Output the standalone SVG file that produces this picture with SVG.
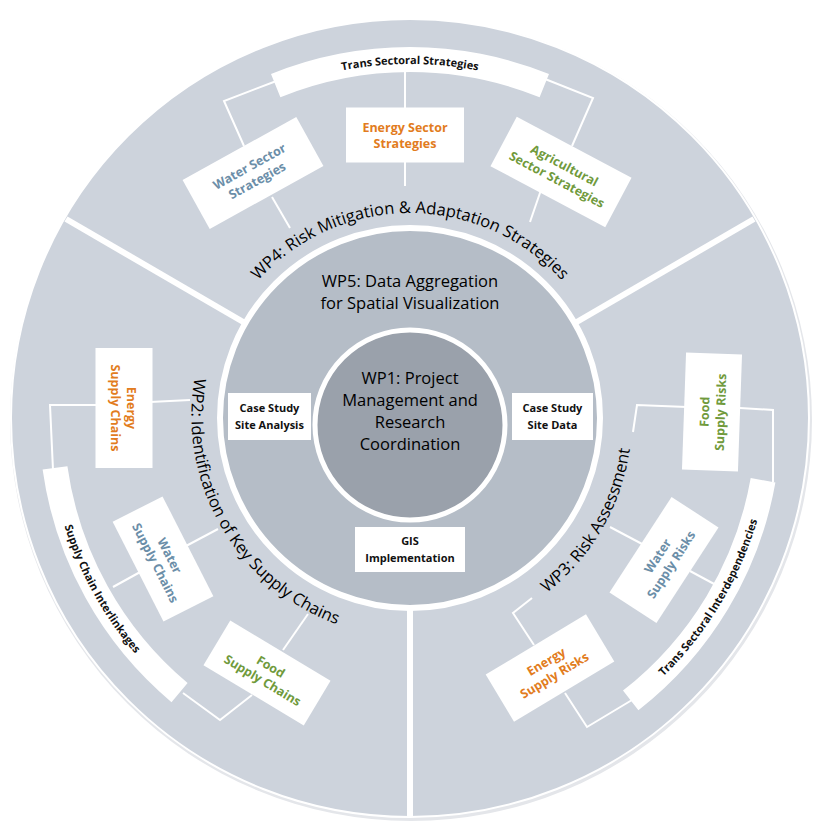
<svg xmlns="http://www.w3.org/2000/svg" width="818" height="827" viewBox="0 0 818 827">
<style>
.bx{fill:#fff}
.cn{fill:none;stroke:#fff;stroke-width:2}
.sep{stroke:#fff;stroke-width:6}
.t{font-family:"Open Sans","Liberation Sans",sans-serif;font-weight:700;font-size:12.5px;text-anchor:middle}
.s{font-family:"Open Sans","Liberation Sans",sans-serif;font-weight:700;font-size:11px;text-anchor:middle;fill:#111}
.wp{font-family:"Open Sans","Liberation Sans",sans-serif;font-size:16.5px;fill:#000}
.c{text-anchor:middle}
.w{fill:#6b8ea8}.e{fill:#e27c20}.g{fill:#709a3c}
</style>
<defs>
<path id="pTop" d="M233 111.4 A354 354 0 0 1 587 111.4"/>
<path id="pLeft" d="M48.9 443.3 A362 362 0 0 0 197.2 710.9"/>
<path id="pRight" d="M612.4 718.1 A362 362 0 0 0 770.0 455.8"/>
<path id="pWP4" d="M217.4 347.9 A205 205 0 0 1 602.6 347.9"/>
<path id="pWP2" d="M219.5 308 A222 222 0 0 0 410 638"/>
<path id="pWP3" d="M448.5 636.6 A222 222 0 0 0 618.6 342.1"/>
</defs>
<rect width="818" height="827" fill="#fff"/>
<circle cx="411" cy="420" r="401" fill="#e4e6ea"/>
<circle cx="410" cy="418" r="399" fill="#cdd3dc" stroke="#fff" stroke-width="2"/>
<g id="separators">
<line class="sep" x1="245" y1="323" x2="66" y2="219"/>
<line class="sep" x1="575" y1="323" x2="754" y2="219"/>
<line class="sep" x1="410" y1="608" x2="410" y2="816"/>
</g>
<circle cx="410" cy="418" r="190" fill="#b5bdc7" stroke="#fff" stroke-width="6"/>
<circle cx="410" cy="425" r="95" fill="#9aa1ab" stroke="#fff" stroke-width="5"/>

<g id="connectors">
<polyline class="cn" points="405,72 405,110"/>
<polyline class="cn" points="405,160 405,186"/>
<polyline class="cn" points="279,80 224,101 244,146"/>
<polyline class="cn" points="272,197 290,228"/>
<polyline class="cn" points="540,77 593,98 572,146"/>
<polyline class="cn" points="542,187 530,222"/>
<polyline class="cn" points="97,405 50,405 53,470"/>
<polyline class="cn" points="150,402 190,400"/>
<polyline class="cn" points="113,587 142,571"/>
<polyline class="cn" points="186,546 218,529"/>
<polyline class="cn" points="283,650 308,614"/>
<polyline class="cn" points="252,695 220,720 183,693"/>
<polyline class="cn" points="687,407 637,405 633,432"/>
<polyline class="cn" points="740,408 773,410 773,482"/>
<polyline class="cn" points="610,527 644,545"/>
<polyline class="cn" points="690,571 716,585"/>
<polyline class="cn" points="534,645 513,613 532,598"/>
<polyline class="cn" points="565,693 587,727 632,700"/>
</g>

<g id="trans-sectoral-strategies">
<path class="bx" d="M271 74 A371 371 0 0 1 549 74 L539.6 97.2 A346 346 0 0 0 280.4 97.2 Z"/>
<text class="s"><textPath href="#pTop" startOffset="50%">Trans Sectoral Strategies</textPath></text>
</g>
<g id="supply-chain-interlinkages">
<path class="bx" d="M42.6 469.6 A371 371 0 0 0 171.5 702.2 L187.6 683 A346 346 0 0 1 67.4 466.2 Z"/>
<text class="s"><textPath href="#pLeft" startOffset="50%">Supply Chain Interlinkages</textPath></text>
</g>
<g id="trans-sectoral-interdependencies">
<path class="bx" d="M775.4 482.4 A371 371 0 0 1 638.4 710.3 L623 690.6 A346 346 0 0 0 750.7 478.1 Z"/>
<text class="s"><textPath href="#pRight" startOffset="50%">Trans Sectoral Interdependencies</textPath></text>
</g>

<g id="water-sector" transform="translate(253,173) rotate(-29)">
<rect class="bx" x="-65" y="-28" width="130" height="56"/>
<text class="t w" y="-3">Water Sector</text><text class="t w" y="13">Strategies</text>
</g>
<g id="energy-sector" transform="translate(405,135)">
<rect class="bx" x="-59" y="-27.5" width="118" height="55"/>
<text class="t e" y="-3">Energy Sector</text><text class="t e" y="13">Strategies</text>
</g>
<g id="agri-sector" transform="translate(561,172) rotate(28)">
<rect class="bx" x="-65" y="-28" width="130" height="56"/>
<text class="t g" y="-3">Agricultural</text><text class="t g" y="13">Sector Strategies</text>
</g>
<g id="energy-chains" transform="translate(124,408) rotate(90)">
<rect class="bx" x="-60" y="-28.5" width="120" height="57"/>
<text class="t e" y="-3">Energy</text><text class="t e" y="13">Supply Chains</text>
</g>
<g id="water-chains" transform="translate(163,559) rotate(63)">
<rect class="bx" x="-56" y="-28" width="112" height="56"/>
<text class="t w" y="-3">Water</text><text class="t w" y="13">Supply Chains</text>
</g>
<g id="food-chains" transform="translate(267,673) rotate(31)">
<rect class="bx" x="-58.5" y="-26" width="117" height="52"/>
<text class="t g" y="-3">Food</text><text class="t g" y="13">Supply Chains</text>
</g>
<g id="food-risks" transform="translate(712,412) rotate(-88)">
<rect class="bx" x="-58.5" y="-28" width="117" height="56"/>
<text class="t g" y="-3">Food</text><text class="t g" y="13">Supply Risks</text>
</g>
<g id="water-risks" transform="translate(664,560) rotate(-57)">
<rect class="bx" x="-57" y="-28" width="114" height="56"/>
<text class="t w" y="-3">Water</text><text class="t w" y="13">Supply Risks</text>
</g>
<g id="energy-risks" transform="translate(550,668) rotate(-31)">
<rect class="bx" x="-58.5" y="-27.5" width="117" height="55"/>
<text class="t e" y="-3">Energy</text><text class="t e" y="13">Supply Risks</text>
</g>

<g id="wp-labels">
<text class="wp"><textPath href="#pWP4" startOffset="50%" text-anchor="middle">WP4: Risk Mitigation &amp; Adaptation Strategies</textPath></text>
<text class="wp"><textPath href="#pWP2" startOffset="50%" text-anchor="middle">WP2: Identification of Key Supply Chains</textPath></text>
<text class="wp"><textPath href="#pWP3" startOffset="50%" text-anchor="middle">WP3: Risk Assessment</textPath></text>
</g>

<g id="wp5">
<text class="wp c" x="410" y="287">WP5: Data Aggregation</text>
<text class="wp c" x="410" y="309">for Spatial Visualization</text>
</g>
<g id="case-analysis">
<rect class="bx" x="228" y="393" width="83" height="47"/>
<text class="s" x="269.5" y="412">Case Study</text><text class="s" x="269.5" y="429">Site Analysis</text>
</g>
<g id="case-data">
<rect class="bx" x="512" y="393" width="81" height="47"/>
<text class="s" x="552.5" y="412">Case Study</text><text class="s" x="552.5" y="429">Site Data</text>
</g>
<g id="gis">
<rect class="bx" x="355" y="527" width="110" height="45"/>
<text class="s" x="410" y="545">GIS</text><text class="s" x="410" y="562">Implementation</text>
</g>
<g id="wp1">
<text class="wp c" x="410" y="384">WP1: Project</text>
<text class="wp c" x="410" y="406">Management and</text>
<text class="wp c" x="410" y="428">Research</text>
<text class="wp c" x="410" y="450">Coordination</text>
</g>
</svg>
